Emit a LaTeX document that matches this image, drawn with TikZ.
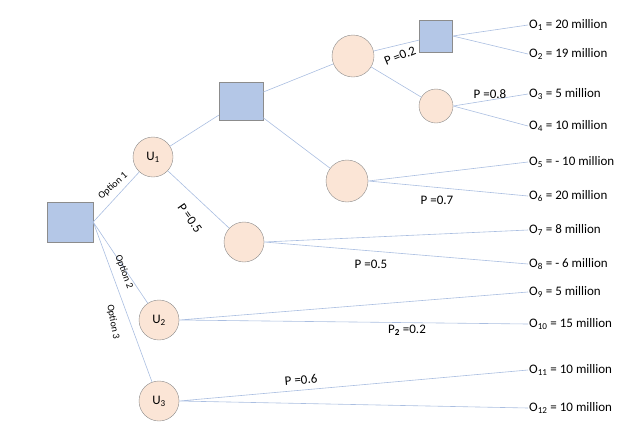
\documentclass[tikz,border=0pt]{standalone}
\usepackage{fontspec}
\setmainfont{Carlito}
\newcommand{\sbs}[1]{\textsubscript{#1}}
\begin{document}
\begin{tikzpicture}[x=1pt,y=-1pt,
  every node/.style={font=\fontsize{13}{15}\selectfont},
  dec/.style={draw=black!45,fill={rgb,255:red,180;green,199;blue,231},rectangle,inner sep=0pt},
  ch/.style={draw=black!45,fill={rgb,255:red,251;green,229;blue,214},circle,inner sep=0pt},
  ln/.style={draw={rgb,255:red,170;green,190;blue,225},line width=0.6pt},
  outc/.style={anchor=west,inner sep=1pt},
  lab/.style={inner sep=1pt}]
\useasboundingbox (0,0) rectangle (642,429);
\node[dec,minimum width=46pt,minimum height=40pt] (r) at (70,222) {};
\node[ch,minimum size=40pt] (u1) at (153,157) {U\sbs{1}};
\node[dec,minimum width=44pt,minimum height=38pt] (s2) at (241,101) {};
\node[ch,minimum size=42pt] (a) at (353,56) {};
\node[dec,minimum width=33pt,minimum height=32pt] (s3) at (436,36) {};
\node[ch,minimum size=34pt] (b) at (436,106) {};
\node[ch,minimum size=42pt] (c) at (347,181) {};
\node[ch,minimum size=40pt] (d) at (244,242) {};
\node[ch,minimum size=40pt] (u2) at (159,320) {U\sbs{2}};
\node[ch,minimum size=40pt] (u3) at (159,401) {U\sbs{3}};
\node[outc] (o1) at (528,25) {O\sbs{1} = 20 million};
\node[outc] (o2) at (528,54) {O\sbs{2} = 19 million};
\node[outc] (o3) at (528,94) {O\sbs{3} = 5 million};
\node[outc] (o4) at (528,126) {O\sbs{4} = 10 million};
\node[outc] (o5) at (528,162) {O\sbs{5} = - 10 million};
\node[outc] (o6) at (528,196) {O\sbs{6} = 20 million};
\node[outc] (o7) at (528,230) {O\sbs{7} = 8 million};
\node[outc] (o8) at (528,264) {O\sbs{8} = - 6 million};
\node[outc] (o9) at (528,292) {O\sbs{9} = 5 million};
\node[outc] (o10) at (528,324) {O\sbs{10} = 15 million};
\node[outc] (o11) at (528,370) {O\sbs{11} = 10 million};
\node[outc] (o12) at (528,408) {O\sbs{12} = 10 million};
\draw[ln] (r.east) -- (u1) (r.east) -- (u2) (r.east) -- (u3);
\draw[ln] (u1) -- (s2) (u1) -- (d);
\draw[ln] (s2) -- (a) (s2) -- (c);
\draw[ln] (a) -- (s3) (a) -- (b);
\draw[ln] (s3.east) -- (o1.west) (s3.east) -- (o2.west);
\draw[ln] (b.east) -- (o3.west) (b.east) -- (o4.west);
\draw[ln] (c.east) -- (o5.west) (c.east) -- (o6.west);
\draw[ln] (d.east) -- (o7.west) (d.east) -- (o8.west);
\draw[ln] (u2.east) -- (o9.west) (u2.east) -- (o10.west);
\draw[ln] (u3.east) -- (o11.west) (u3.east) -- (o12.west);
\node[lab,rotate=42] (l1) at (113,186) {\fontsize{10}{11}\selectfont Option 1};
\node[lab,rotate=-70] (l2) at (124,272) {\fontsize{10}{11}\selectfont Option 2};
\node[lab,rotate=-80] (l3) at (113,322) {\fontsize{10}{11}\selectfont Option 3};
\node[lab,rotate=-55] (p1) at (190,218) {P =0.5};
\node[lab,rotate=22] (p2) at (400,56) {P =0.2};
\node[lab] (p3) at (490,94) {P =0.8};
\node[lab] (p4) at (437,200) {P =0.7};
\node[lab] (p5) at (371,264) {P =0.5};
\node[lab] (p6) at (407,330) {P\sbs{\bfseries 2} =0.2};
\node[lab,rotate=5] (p7) at (301,380) {P =0.6};
\end{tikzpicture}
\end{document}
